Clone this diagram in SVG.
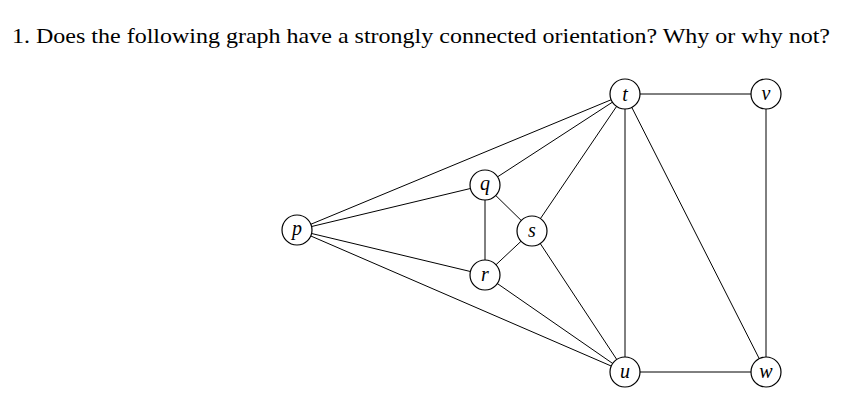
<svg xmlns="http://www.w3.org/2000/svg" width="862" height="416" viewBox="0 0 862 416">
<style>
.e{stroke:#000;stroke-width:1;fill:none}
.n circle{fill:#fff;stroke:#000;stroke-width:1.2}
.n text{font-family:"Liberation Serif",serif;font-style:italic;font-size:20px;text-anchor:middle}
.t{font-family:"Liberation Serif",serif;font-size:22px}
</style>
<rect width="862" height="416" fill="#fff"/>
<text class="t" x="12" y="43" textLength="818" lengthAdjust="spacingAndGlyphs">1. Does the following graph have a strongly connected orientation? Why or why not?</text>
<g id="edges">
<line class="e" x1="625" y1="94" x2="766" y2="94"/>
<line class="e" x1="625" y1="94" x2="297" y2="230"/>
<line class="e" x1="625" y1="94" x2="485" y2="185"/>
<line class="e" x1="625" y1="94" x2="532" y2="231"/>
<line class="e" x1="625" y1="94" x2="625" y2="372"/>
<line class="e" x1="625" y1="94" x2="766" y2="372"/>
<line class="e" x1="766" y1="94" x2="766" y2="372"/>
<line class="e" x1="485" y1="185" x2="297" y2="230"/>
<line class="e" x1="485" y1="185" x2="532" y2="231"/>
<line class="e" x1="485" y1="185" x2="485" y2="275"/>
<line class="e" x1="297" y1="230" x2="485" y2="275"/>
<line class="e" x1="297" y1="230" x2="625" y2="372"/>
<line class="e" x1="532" y1="231" x2="485" y2="275"/>
<line class="e" x1="532" y1="231" x2="625" y2="372"/>
<line class="e" x1="485" y1="275" x2="625" y2="372"/>
<line class="e" x1="625" y1="372" x2="766" y2="372"/>
</g>
<g id="t" class="n"><circle cx="625" cy="94" r="15"/><text x="625" y="101">t</text></g>
<g id="v" class="n"><circle cx="766" cy="94" r="15"/><text x="766" y="100">v</text></g>
<g id="q" class="n"><circle cx="485" cy="185" r="15"/><text x="485" y="190">q</text></g>
<g id="p" class="n"><circle cx="297" cy="230" r="15"/><text x="297" y="235">p</text></g>
<g id="s" class="n"><circle cx="532" cy="231" r="15"/><text x="532" y="237">s</text></g>
<g id="r" class="n"><circle cx="485" cy="275" r="15"/><text x="485" y="281">r</text></g>
<g id="u" class="n"><circle cx="625" cy="372" r="15"/><text x="625" y="378">u</text></g>
<g id="w" class="n"><circle cx="766" cy="372" r="15"/><text x="766" y="378">w</text></g>
</svg>
